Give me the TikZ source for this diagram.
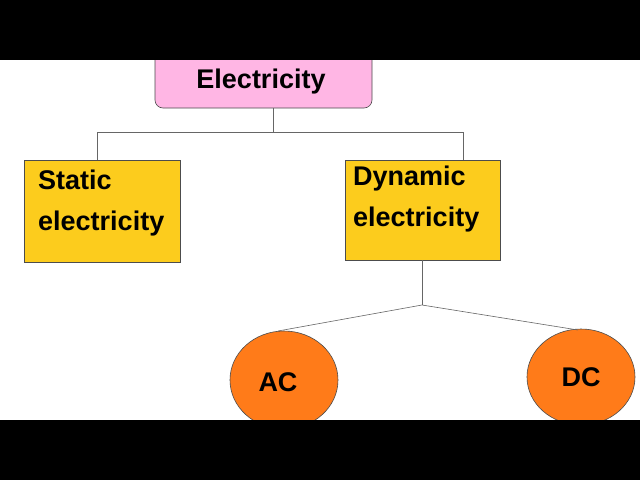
\documentclass[tikz,border=0pt]{standalone}
\usepackage{fontspec}
\setmainfont{Liberation Sans}
\begin{document}
\begin{tikzpicture}[x=1pt,y=-1pt,
  txt/.style={font=\bfseries\fontsize{27}{41}\selectfont},
  box/.style={draw=black!70,fill=yellow!60!orange!90,line width=0.6pt},
  lbl/.style={txt,align=left,anchor=north west,inner sep=0pt},
  circ/.style={draw=black!70,fill=orange!85!red!90,line width=0.6pt},
  conn/.style={draw=black!60,line width=0.6pt}]
\useasboundingbox (0,0) rectangle (640,480);
\fill[white] (0,0) rectangle (640,480);
% Electricity
\draw[fill=pink!70!magenta!60,draw=black!70,line width=0.6pt,rounded corners=8pt] (155,50) -- (372,50) -- (372,108) -- (155,108) -- cycle;
\node[txt] (el) at (261,82) {Electricity};
\coordinate (elb) at (273,108);
% boxes
\draw[box] (24,160) rectangle (180,262);
\node[lbl] (st) at (38,170) {Static\\electricity};
\draw[box] (345,160) rectangle (500,260);
\node[lbl] (dy) at (353,166) {Dynamic\\electricity};
\coordinate (stt) at (97,160);
\coordinate (dyt) at (463,160);
\coordinate (dyb) at (422,260);
% connectors
\coordinate (j1) at (273,132);
\draw[conn] (elb) -- (j1);
\draw[conn] (stt) |- (dyt |- j1) -- (dyt);
\coordinate (j2) at (422,305);
\draw[conn] (dyb) -- (j2);
% circles
\draw[circ] (284,380) ellipse (54 and 49);
\node[txt] (ac) at (278,382) {AC};
\draw[circ] (581,377) ellipse (54 and 48);
\node[txt] (dc) at (581,377) {DC};
\coordinate (act) at (278,331);
\coordinate (dct) at (578,330);
\draw[conn] (act) -- (j2) -- (dct);
% bars
\fill[black] (0,0) rectangle (640,60);
\fill[black] (0,420) rectangle (640,480);
\end{tikzpicture}
\end{document}
